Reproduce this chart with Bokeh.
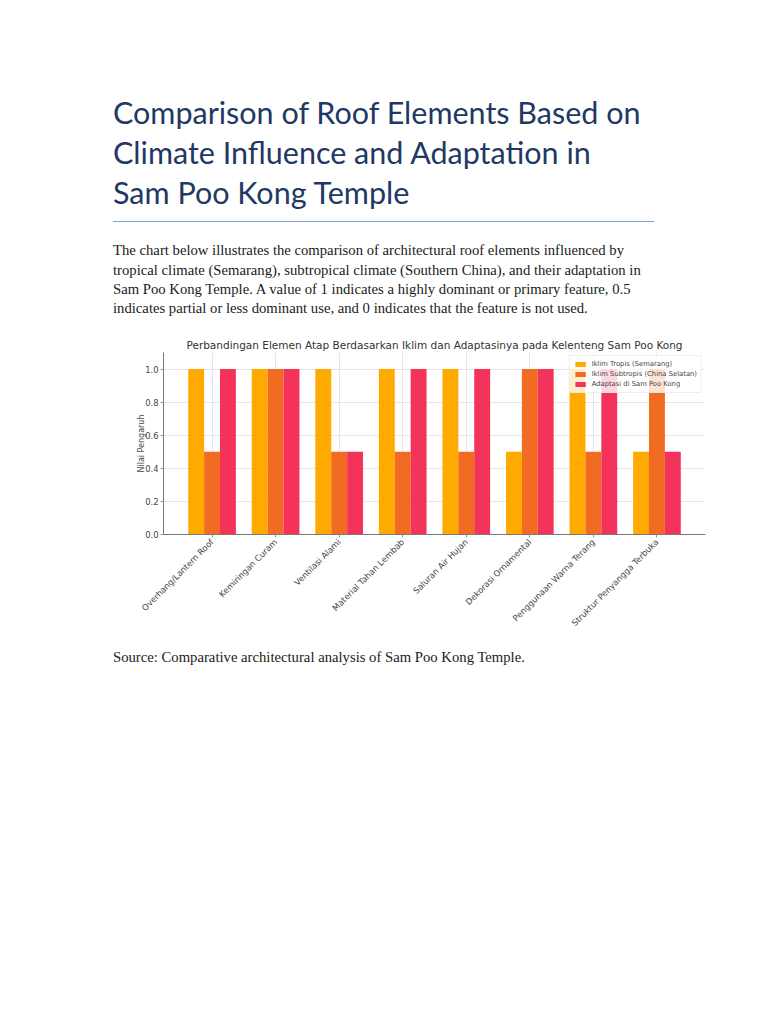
import math
from bokeh.plotting import figure
from bokeh.models import ColumnDataSource, FactorRange, Range1d, NumeralTickFormatter, Div
from bokeh.transform import dodge
from bokeh.layouts import column
from bokeh.embed import file_html
from bokeh.resources import INLINE

# ---------------- data ----------------
page_title_lines = [
    "Comparison of Roof Elements Based on",
    "Climate Influence and Adaptation in",
    "Sam Poo Kong Temple",
]
intro_lines = [
    "The chart below illustrates the comparison of architectural roof elements influenced by",
    "tropical climate (Semarang), subtropical climate (Southern China), and their adaptation in",
    "Sam Poo Kong Temple. A value of 1 indicates a highly dominant or primary feature, 0.5",
    "indicates partial or less dominant use, and 0 indicates that the feature is not used.",
]
source_line = "Source: Comparative architectural analysis of Sam Poo Kong Temple."

chart_title = "Perbandingan Elemen Atap Berdasarkan Iklim dan Adaptasinya pada Kelenteng Sam Poo Kong"
categories = [
    "Overhang/Lantern Roof",
    "Kemiringan Curam",
    "Ventilasi Alami",
    "Material Tahan Lembab",
    "Saluran Air Hujan",
    "Dekorasi Ornamental",
    "Penggunaan Warna Terang",
    "Struktur Penyangga Terbuka",
]
tropis = [1.0, 1.0, 1.0, 1.0, 1.0, 0.5, 1.0, 0.5]
subtropis = [0.5, 1.0, 0.5, 0.5, 0.5, 1.0, 0.5, 1.0]
adaptasi = [1.0, 1.0, 0.5, 1.0, 1.0, 1.0, 1.0, 0.5]
series_labels = [
    "Iklim Tropis (Semarang)",
    "Iklim Subtropis (China Selatan)",
    "Adaptasi di Sam Poo Kong",
]
y_ticks = [0.0, 0.2, 0.4, 0.6, 0.8, 1.0]
y_label = "Nilai Pengaruh"

# ---------------- styles ----------------
W = 768
HEADER_H = 330
CHART_H = 310
FOOTER_H = 1024 - HEADER_H - CHART_H
LEFT = 113
TITLE_COLOR = "#1F3864"
BODY_COLOR = "#1a1a1a"
COLORS = ["#FFAA00", "#F26B22", "#F4335A"]
TXT = "#444444"

TITLE_FS = 30.5
BODY_FS = 14.7


def line_html(text, baseline, fs, family, color, asc, content):
    # position a single line so that its baseline sits at `baseline` px
    lh = content * fs
    top = baseline - asc * fs
    return (f'<div style="position:absolute;left:{LEFT}px;top:{top:.2f}px;'
            f'font-family:\'{family}\';font-size:{fs}px;line-height:{lh:.2f}px;'
            f'color:{color};white-space:nowrap;margin:0;padding:0;">{text}</div>')


# ---------------- header ----------------
parts = []
for i, t in enumerate(page_title_lines):
    parts.append(line_html(t, 124 + 40 * i, TITLE_FS, "Lato", TITLE_COLOR, 0.987, 1.2))
parts.append(f'<div style="position:absolute;left:{LEFT}px;top:221px;width:{654 - LEFT}px;'
             f'height:0;border-top:1px solid #7F9FD4;"></div>')
for i, t in enumerate(intro_lines):
    parts.append(line_html(t, 255.5 + 19.2 * i, BODY_FS, "Liberation Serif", BODY_COLOR, 0.891, 1.107))
header = Div(text=f'<div style="position:relative;width:{W}px;height:{HEADER_H}px;">' + "".join(parts) + "</div>",
             width=W, height=HEADER_H, margin=0)

# ---------------- chart ----------------
src = ColumnDataSource(dict(cats=categories, tropis=tropis, subtropis=subtropis, adaptasi=adaptasi))

p = figure(width=W, height=CHART_H,
           x_range=FactorRange(factors=categories, range_padding=0.066),
           y_range=Range1d(0, 1.1),
           output_backend="svg", toolbar_location=None,
           min_border_left=163, min_border_right=63, min_border_top=22, min_border_bottom=106)

for field, off, col, lab in zip(["tropis", "subtropis", "adaptasi"], [-0.25, 0.0, 0.25], COLORS, series_labels):
    p.vbar(x=dodge("cats", off, range=p.x_range), top=field, width=0.25, source=src,
           fill_color=col, line_color=None, legend_label=lab)

p.title.text = chart_title
p.title.align = "center"
p.title.text_font = "DejaVu Sans"
p.title.text_font_size = "10.5px"
p.title.text_font_style = "normal"
p.title.text_color = "#333333"
p.title.standoff = 3

p.outline_line_color = None
p.grid.grid_line_color = "#e6e6e6"
p.grid.grid_line_width = 1

for ax in (p.xaxis, p.yaxis):
    ax.axis_line_color = "#777777"
    ax.major_tick_line_color = "#999999"
    ax.major_tick_in = 0
    ax.major_tick_out = 3
    ax.minor_tick_line_color = None
    ax.major_label_text_font = "DejaVu Sans"
    ax.major_label_text_font_size = "8.4px"
    ax.major_label_text_color = TXT

p.xaxis.major_label_orientation = math.pi / 4
p.xaxis.major_label_standoff = 3
p.yaxis.ticker = y_ticks
p.yaxis.formatter = NumeralTickFormatter(format="0.0")
p.yaxis.major_label_standoff = 2
p.yaxis.axis_label = y_label
p.yaxis.axis_label_text_font = "DejaVu Sans"
p.yaxis.axis_label_text_font_size = "8px"
p.yaxis.axis_label_text_font_style = "normal"
p.yaxis.axis_label_text_color = TXT
p.yaxis.axis_label_standoff = -4

lg = p.legend[0]
lg.location = "top_right"
lg.label_text_font = "DejaVu Sans"
lg.label_text_font_size = "6.8px"
lg.label_text_color = TXT
lg.glyph_width = 13
lg.glyph_height = 6
lg.label_height = 8
lg.label_standoff = 5
lg.spacing = 2
lg.padding = 4
lg.margin = 3
lg.border_line_color = "#dddddd"
lg.background_fill_alpha = 0.8

# ---------------- footer ----------------
footer = Div(text=f'<div style="position:relative;width:{W}px;height:{FOOTER_H}px;">'
             + line_html(source_line, 662 - HEADER_H - CHART_H, BODY_FS, "Liberation Serif", BODY_COLOR, 0.891, 1.107)
             + "</div>",
             width=W, height=FOOTER_H, margin=0)

page = column(header, p, footer, spacing=0)
open("out.html", "w").write(file_html(page, INLINE))
